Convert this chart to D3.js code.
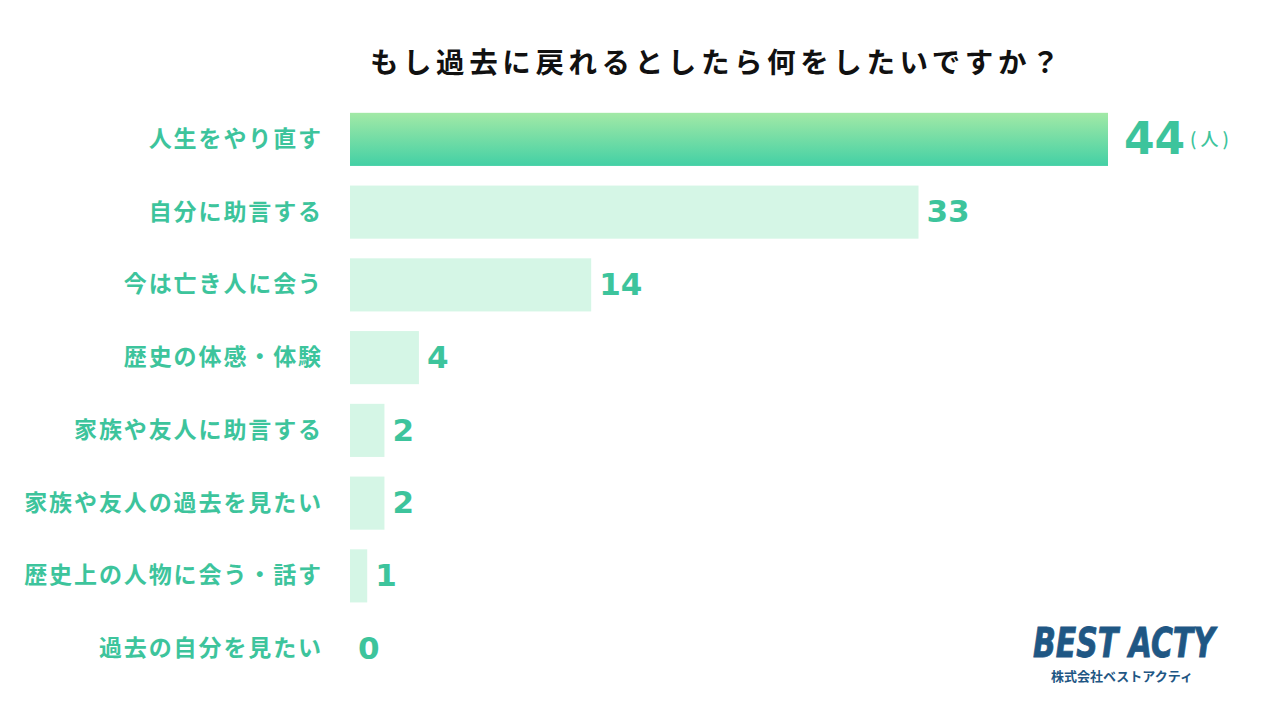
<!DOCTYPE html>
<html><head><meta charset="utf-8">
<script src="https://cdn.jsdelivr.net/npm/d3@7"></script>
<style>body{margin:0;background:#fff;}svg{display:block;}</style>
</head><body>
<svg id="chart" width="1280" height="720"></svg>
<script>
const title = "もし過去に戻れるとしたら何をしたいですか？";
const categories = ["人生をやり直す","自分に助言する","今は亡き人に会う","歴史の体感・体験","家族や友人に助言する","家族や友人の過去を見たい","歴史上の人物に会う・話す","過去の自分を見たい"];
const values = [44,33,14,4,2,2,1,0];
const unitLabel = "(人)";

(function(){
const svg = d3.select("#chart");
const x = d3.scaleLinear().domain([0,44]).range([350,1108]);
const y = d3.scaleBand().domain(categories).range([103,685]).paddingInner(0.27).paddingOuter(0.135);

const defs = svg.append("defs");
const g = defs.append("linearGradient").attr("id","topGrad").attr("x1",0).attr("y1",0).attr("x2",0).attr("y2",1);
g.append("stop").attr("offset","0%").attr("stop-color","#a2e9a6");
g.append("stop").attr("offset","100%").attr("stop-color","#43d0a5");

svg.append("text").attr("x",717).attr("y",73).attr("text-anchor","middle")
  .attr("font-family","'Noto Sans CJK JP'").attr("font-weight",700).attr("font-size",28.5)
  .attr("letter-spacing",4.6).attr("fill","#111").text(title);

const data = categories.map((c,i)=>({c, v: values[i], i}));

svg.selectAll("rect.bar").data(data).join("rect").attr("class","bar")
  .attr("x",x(0)).attr("y",d=>y(d.c)).attr("height",y.bandwidth())
  .attr("width",d=>x(d.v)-x(0))
  .attr("fill",d=>d.i===0?"url(#topGrad)":"#d5f6e6");

svg.selectAll("text.cat").data(data).join("text").attr("class","cat")
  .attr("x",323).attr("y",d=>y(d.c)+y.bandwidth()/2).attr("dy","0.33em")
  .attr("text-anchor","end").attr("font-family","'Noto Sans CJK JP'").attr("font-weight",700)
  .attr("font-size",23).attr("letter-spacing",1.9).attr("fill","#3dc49c").text(d=>d.c);

svg.selectAll("text.val").data(data).join("text").attr("class","val")
  .attr("x",d=>x(d.v)+(d.i===0?16:8)).attr("y",d=>y(d.c)+y.bandwidth()/2)
  .attr("dy","0.33em")
  .attr("font-family","'DejaVu Sans'").attr("font-weight",700)
  .attr("font-size",d=>d.i===0?44:31).attr("fill","#3dc49c").text(d=>d.v);

const first = data[0];
svg.append("text").attr("x",1190).attr("y",y(first.c)+y.bandwidth()/2).attr("dy","0.35em")
  .attr("font-family","'Noto Sans CJK JP'").attr("font-weight",500).attr("font-size",18)
  .attr("fill","#3dc49c").attr("letter-spacing",4).text(unitLabel);

const logo = svg.append("g");
logo.append("text").attr("x",1124).attr("y",657).attr("text-anchor","middle")
  .attr("font-family","'Liberation Sans Narrow','DejaVu Sans Condensed','Liberation Sans'").attr("font-weight",700)
  .attr("font-style","italic").attr("font-size",40).attr("fill","#1f5784")
  .attr("stroke","#1f5784").attr("stroke-width",0.8)
  .attr("textLength",182).attr("lengthAdjust","spacingAndGlyphs").text("BEST ACTY");
logo.append("text").attr("x",1122).attr("y",681).attr("text-anchor","middle")
  .attr("font-family","'Noto Sans CJK JP'").attr("font-weight",700).attr("font-size",13)
  .attr("fill","#1f5784").text("株式会社ベストアクティ");
})();
</script>
</body></html>
